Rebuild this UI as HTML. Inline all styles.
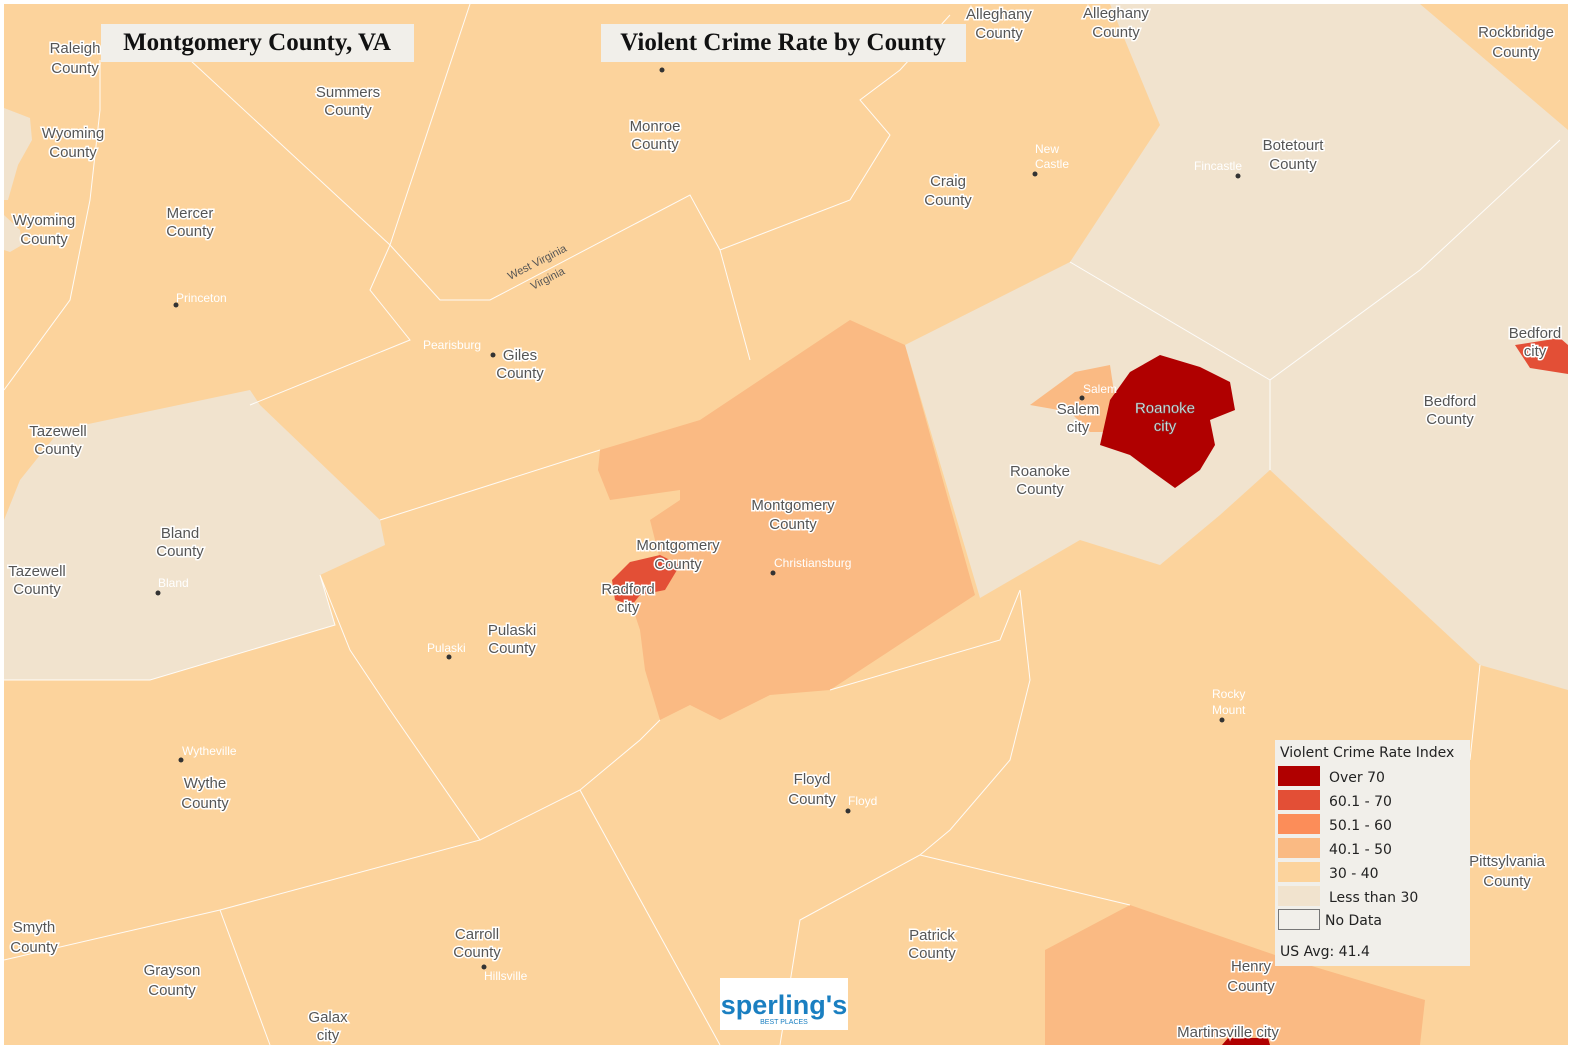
<!DOCTYPE html>
<html><head><meta charset="utf-8"><style>
body{margin:0;background:#fff;}
svg{display:block}
.l{font-family:"Liberation Sans",sans-serif;font-size:15px;fill:#555;stroke:#fff;stroke-width:3px;paint-order:stroke;text-anchor:middle}
.w{font-family:"Liberation Sans",sans-serif;font-size:12px;fill:#fff;text-anchor:start}
.lg{font-family:"DejaVu Sans",sans-serif;font-size:14px;fill:#222}
</style></head><body>
<svg width="1587" height="1058" viewBox="0 0 1587 1058" xmlns="http://www.w3.org/2000/svg">
<rect x="0" y="0" width="1587" height="1058" fill="#fff"/>
<rect x="4" y="4" width="1564" height="1041" fill="#FCD39C"/>
<g fill="#F1E3CE">
<polygon points="1110,4 1420,4 1568,130 1568,690 1480,665 1270,470 1220,515 1160,565 1080,540 980,598 905,345 1070,262 1160,125"/>
<polygon points="4,520 20,480 60,430 250,390 260,405 380,520 385,545 320,575 335,625 150,680 4,680"/>
<polygon points="4,108 30,118 32,140 18,165 8,200 4,200"/>
<polygon points="4,215 20,230 22,245 10,252 4,250"/>
</g>
<g fill="#FABA83">
<polygon points="600,450 700,420 850,320 905,345 975,595 830,690 770,695 720,720 690,705 660,720 645,670 640,630 630,600 660,560 650,520 680,500 680,490 610,500 598,470"/>
<polygon points="1030,405 1075,372 1110,365 1120,432 1090,432 1070,412"/>
<polygon points="1045,950 1130,905 1275,955 1425,1000 1420,1045 1045,1045"/>
</g>
<polygon fill="#B00000" points="1100,445 1110,400 1130,372 1160,355 1200,367 1230,382 1235,410 1210,420 1215,445 1200,470 1175,488 1150,470 1130,455"/>
<polygon fill="#E34F36" points="612,580 630,562 660,555 680,565 665,590 640,595 632,605 615,600"/>
<polygon fill="#E34F36" points="1515,345 1560,338 1568,345 1568,374 1530,368"/>
<polygon fill="#B00000" points="1222,1045 1228,1038 1268,1038 1270,1045"/>
<g fill="none" stroke="#fff" stroke-width="1" opacity="0.9">
<polyline points="190,60 390,245 440,300 490,300 690,195 720,250 850,200 890,135 860,100 900,70 950,15"/>
<polyline points="390,245 470,4"/>
<polyline points="390,245 370,290 410,340 250,405"/>
<polyline points="720,250 750,360"/>
<polyline points="4,680 150,680 335,625 320,575 350,650 390,710 480,840 220,910 4,960"/>
<polyline points="480,840 580,790 640,740 660,720"/>
<polyline points="580,790 720,1045"/>
<polyline points="220,910 270,1045"/>
<polyline points="830,690 1000,640 1020,590"/>
<polyline points="1020,590 1030,680 1010,760 950,830 920,855 800,920 780,1045"/>
<polyline points="920,855 1130,905"/>
<polyline points="1480,665 1470,760"/>
<polyline points="1070,262 1270,380 1270,470"/>
<polyline points="1270,380 1420,270 1560,140"/>
<polyline points="380,520 600,450"/>
<polyline points="100,60 100,110 90,200 70,300 4,390"/>
</g>
<rect x="101" y="24" width="313" height="38" fill="#F1EFEA"/>
<text x="257" y="50" font-family="Liberation Serif,serif" font-weight="bold" font-size="25" text-anchor="middle" fill="#111">Montgomery County, VA</text>
<rect x="601" y="24" width="365" height="38" fill="#F1EFEA"/>
<text x="783" y="50" font-family="Liberation Serif,serif" font-weight="bold" font-size="25" text-anchor="middle" fill="#111">Violent Crime Rate by County</text>
<g class="l">
<text x="75" y="53">Raleigh</text><text x="75" y="73">County</text>
<text x="73" y="138">Wyoming</text><text x="73" y="157">County</text>
<text x="44" y="225">Wyoming</text><text x="44" y="244">County</text>
<text x="190" y="218">Mercer</text><text x="190" y="236">County</text>
<text x="348" y="97">Summers</text><text x="348" y="115">County</text>
<text x="655" y="131">Monroe</text><text x="655" y="149">County</text>
<text x="999" y="19">Alleghany</text><text x="999" y="38">County</text>
<text x="1116" y="18">Alleghany</text><text x="1116" y="37">County</text>
<text x="1516" y="37">Rockbridge</text><text x="1516" y="57">County</text>
<text x="948" y="186">Craig</text><text x="948" y="205">County</text>
<text x="1293" y="150">Botetourt</text><text x="1293" y="169">County</text>
<text x="520" y="360">Giles</text><text x="520" y="378">County</text>
<text x="58" y="436">Tazewell</text><text x="58" y="454">County</text>
<text x="180" y="538">Bland</text><text x="180" y="556">County</text>
<text x="37" y="576">Tazewell</text><text x="37" y="594">County</text>
<text x="793" y="510">Montgomery</text><text x="793" y="529">County</text>
<text x="678" y="550">Montgomery</text><text x="678" y="569">County</text>
<text x="628" y="594">Radford</text><text x="628" y="612">city</text>
<text x="512" y="635">Pulaski</text><text x="512" y="653">County</text>
<text x="1040" y="476">Roanoke</text><text x="1040" y="494">County</text>
<text x="1078" y="414">Salem</text><text x="1078" y="432">city</text>
<text x="1450" y="406">Bedford</text><text x="1450" y="424">County</text>
<text x="1535" y="338">Bedford</text><text x="1535" y="356">city</text>
<text x="205" y="788">Wythe</text><text x="205" y="808">County</text>
<text x="812" y="784">Floyd</text><text x="812" y="804">County</text>
<text x="1507" y="866">Pittsylvania</text><text x="1507" y="886">County</text>
<text x="34" y="932">Smyth</text><text x="34" y="952">County</text>
<text x="172" y="975">Grayson</text><text x="172" y="995">County</text>
<text x="477" y="939">Carroll</text><text x="477" y="957">County</text>
<text x="932" y="940">Patrick</text><text x="932" y="958">County</text>
<text x="1251" y="971">Henry</text><text x="1251" y="991">County</text>
<text x="328" y="1022">Galax</text><text x="328" y="1040">city</text>
<text x="1228" y="1037">Martinsville city</text>
</g>
<text x="1165" y="413" font-family="Liberation Sans,sans-serif" font-size="15" fill="#fff" text-anchor="middle" stroke="#777" stroke-width="0.6">Roanoke</text>
<text x="1165" y="431" font-family="Liberation Sans,sans-serif" font-size="15" fill="#fff" text-anchor="middle" stroke="#777" stroke-width="0.6">city</text>
<g class="w">
<text x="176" y="302">Princeton</text><text x="423" y="349">Pearisburg</text>
<text x="1035" y="153">New</text><text x="1035" y="168">Castle</text>
<text x="1194" y="170">Fincastle</text><text x="1083" y="393">Salem</text>
<text x="774" y="567">Christiansburg</text><text x="158" y="587">Bland</text>
<text x="427" y="652">Pulaski</text><text x="182" y="755">Wytheville</text>
<text x="848" y="805">Floyd</text><text x="1212" y="698">Rocky</text><text x="1212" y="714">Mount</text>
<text x="484" y="980">Hillsville</text>
</g>
<g fill="#333"><circle cx="176" cy="305" r="2.5"/><circle cx="493" cy="355" r="2.5"/><circle cx="1035" cy="174" r="2.5"/><circle cx="1238" cy="176" r="2.5"/><circle cx="1082" cy="398" r="2.5"/><circle cx="773" cy="573" r="2.5"/><circle cx="158" cy="593" r="2.5"/><circle cx="449" cy="657" r="2.5"/><circle cx="181" cy="760" r="2.5"/><circle cx="848" cy="811" r="2.5"/><circle cx="1222" cy="720" r="2.5"/><circle cx="484" cy="967" r="2.5"/><circle cx="662" cy="70" r="2.5"/></g>
<g fill="none" font-family="Liberation Sans,sans-serif" font-size="11" fill-opacity="1">
<text x="510" y="280" fill="#555" transform="rotate(-27 510 280)">West Virginia</text>
<text x="533" y="290" fill="#555" transform="rotate(-27 533 290)">Virginia</text>
</g>
<rect x="1275" y="740" width="195" height="226" fill="#F1EFEA"/>
<text x="1280" y="757" class="lg">Violent Crime Rate Index</text>
<rect x="1278" y="766" width="42" height="20" fill="#B00000"/>
<rect x="1278" y="790" width="42" height="20" fill="#E34F36"/>
<rect x="1278" y="814" width="42" height="20" fill="#FC8D59"/>
<rect x="1278" y="838" width="42" height="20" fill="#FABA83"/>
<rect x="1278" y="862" width="42" height="20" fill="#FCD39C"/>
<rect x="1278" y="886" width="42" height="20" fill="#F1E3CE"/>
<rect x="1278.5" y="909.5" width="41" height="20" fill="#F1EFEA" stroke="#777"/>
<g class="lg"><text x="1329" y="782">Over 70</text><text x="1329" y="806">60.1 - 70</text><text x="1329" y="830">50.1 - 60</text><text x="1329" y="854">40.1 - 50</text><text x="1329" y="878">30 - 40</text><text x="1329" y="902">Less than 30</text><text x="1325" y="925">No Data</text><text x="1280" y="956">US Avg: 41.4</text></g>
<rect x="720" y="978" width="128" height="52" fill="#fff"/>
<text x="784" y="1014" font-family="Liberation Sans,sans-serif" font-weight="bold" font-size="27" fill="#1A7FC1" text-anchor="middle">sperling's</text>
<text x="784" y="1024" font-family="Liberation Sans,sans-serif" font-size="7" fill="#1A7FC1" text-anchor="middle">BEST PLACES</text>
</svg>
</body></html>
